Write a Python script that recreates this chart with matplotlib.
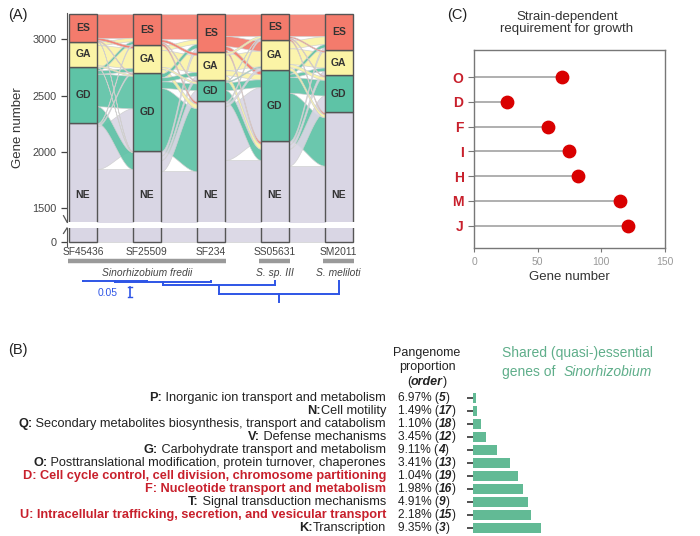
import numpy as np
import matplotlib
matplotlib.use("Agg")
import matplotlib.pyplot as plt
from matplotlib.transforms import offset_copy

plt.rcParams['font.family'] = ['Liberation Sans', 'DejaVu Sans']

# ---------------- data: panel A (alluvial) ----------------
strains = ['SF45436', 'SF25509', 'SF234', 'SS05631', 'SM2011']
strata = ['NE', 'GD', 'GA', 'ES']          # bottom -> top
ne_counts = [2257, 2009, 2451, 2097, 2353]
gd_counts = [495, 691, 186, 629, 328]
ga_counts = [230, 247, 248, 265, 222]
es_counts = [248, 283, 345, 239, 327]
# flows between neighbouring strains, rows = from (NE, GD, GA, ES), cols = to
flows_1_2 = [[1850, 380, 15, 12], [150, 290, 30, 25], [6, 12, 180, 32], [3, 9, 22, 214]]
flows_2_3 = [[1830, 100, 40, 39], [560, 60, 35, 36], [40, 16, 150, 41], [21, 10, 23, 229]]
flows_3_4 = [[1930, 480, 25, 16], [100, 70, 10, 6], [45, 45, 140, 18], [22, 34, 90, 199]]
flows_4_5 = [[1880, 150, 40, 27], [430, 140, 30, 29], [28, 28, 140, 69], [15, 10, 12, 202]]
species = [('Sinorhizobium fredii', 0, 2), ('S. sp. III', 3, 3), ('S. meliloti', 4, 4)]
# cladogram: (left child x, right child x, node depth); leaves at strain positions
tree_nodes = [(0, 1, 0.005), (0.5, 2, 0.011), (1.25, 3, 0.023), (2.125, 4, 0.064)]
root_depth = 0.1

# ---------------- data: panel B ----------------
cog_letters = ['P', 'N', 'Q', 'V', 'G', 'O', 'D', 'F', 'T', 'U', 'K']
cog_names = ['Inorganic ion transport and metabolism', 'Cell motility',
             'Secondary metabolites biosynthesis, transport and catabolism',
             'Defense mechanisms', 'Carbohydrate transport and metabolism',
             'Posttranslational modification, protein turnover, chaperones',
             'Cell cycle control, cell division, chromosome partitioning',
             'Nucleotide transport and metabolism', 'Signal transduction mechanisms',
             'Intracellular trafficking, secretion, and vesicular transport', 'Transcription']
cog_red = ['D', 'F', 'U']
pang_pct = [6.97, 1.49, 1.10, 3.45, 9.11, 3.41, 1.04, 1.98, 4.91, 2.18, 9.35]
pang_order = [5, 17, 18, 12, 4, 13, 19, 16, 9, 15, 3]
shared_genes = [3, 3.5, 8, 13, 24, 37, 45, 50, 55, 58, 68]

# ---------------- data: panel C ----------------
c_cats = ['O', 'D', 'F', 'I', 'H', 'M', 'J']
c_vals = [69, 26, 58, 74.5, 81.5, 115, 121]

colors = {'NE': '#D9D6E4', 'GD': '#5EC3A6', 'GA': '#FBF4A6', 'ES': '#F47B6C'}
RED = '#C8202C'
W, H = 700, 536
fig = plt.figure(figsize=(7, 5.36), dpi=100)
renderer = fig.canvas.get_renderer()


def px_axes(x0, y0, x1, y1):
    return fig.add_axes([x0 / W, 1 - y1 / H, (x1 - x0) / W, (y1 - y0) / H])


def run_text(ax, x, y, runs, ha='left', **common):
    # several pieces of text with their own style, laid out on one line
    widths = []
    for s, kw in runs:
        t = ax.text(0, 0, s, **common, **kw)
        widths.append(t.get_window_extent(renderer).width)
        t.remove()
    total = sum(widths)
    off = {'left': 0, 'right': -total, 'center': -total / 2}[ha]
    for (s, kw), w in zip(runs, widths):
        tr = offset_copy(ax.transData, fig=fig, x=off, y=0, units='dots')
        ax.text(x, y, s, transform=tr, ha='left', va='center', **common, **kw)
        off += w


counts = np.array([ne_counts, gd_counts, ga_counts, es_counts]).T
all_flows = [np.array(f) for f in (flows_1_2, flows_2_3, flows_3_4, flows_4_5)]
bw = 0.44


def draw_alluvial(ax):
    t = np.linspace(0, 1, 60)
    s = t * t * (3 - 2 * t)
    for k, M in enumerate(all_flows):
        starts_l = np.concatenate([[0], np.cumsum(counts[k])[:-1]])
        starts_r = np.concatenate([[0], np.cumsum(counts[k + 1])[:-1]])
        x0, x1 = k + bw / 2, k + 1 - bw / 2
        pieces = []
        for i in range(4):
            for j in range(4):
                yl = starts_l[i] + M[i, :j].sum()
                yr = starts_r[j] + M[:i, j].sum()
                pieces.append((M[i, j], i, yl, yr))
        for n, i, yl, yr in sorted(pieces, key=lambda p: -p[0]):
            lo = yl + (yr - yl) * s
            ax.fill_between(x0 + t * (x1 - x0), lo, lo + n, facecolor=colors[strata[i]],
                            edgecolor='#cfcfcf', lw=0.5, alpha=0.92, zorder=1)
    for i, st in enumerate(strata):
        bottom = counts[:, :i].sum(axis=1)
        ax.bar(range(len(strains)), counts[:, i], bottom=bottom, width=bw,
               color=colors[st], edgecolor='#555555', lw=1.0, zorder=3)


ax_up = px_axes(67, 13, 356, 222)
ax_lo = px_axes(67, 228, 356, 246)
for ax in (ax_up, ax_lo):
    draw_alluvial(ax)
    ax.set_xlim(-0.25, 4.27)
    ax.set_xticks([])
    for sp in ('top', 'right', 'bottom'):
        ax.spines[sp].set_visible(False)
    ax.spines['left'].set_color('#555555')
    ax.tick_params(axis='y', labelsize=7.8, colors='#444444', length=4, width=0.9)
    ax.patch.set_visible(False)
ax_up.set_ylim(1380, 3235)
ax_up.set_yticks([1500, 2000, 2500, 3000])
ax_lo.set_ylim(-36, 124)
ax_lo.set_yticks([0])
# break marks
ax_up.plot([0, -0.012], [0, 0.03], color='#555555', lw=0.9, transform=ax_up.transAxes, clip_on=False)
ax_lo.plot([0, -0.012], [1, 0.7], color='#555555', lw=0.9, transform=ax_lo.transAxes, clip_on=False)

# stratum labels
for k in range(len(strains)):
    bottom = 0
    for i, st in enumerate(strata):
        ymid = 1620 if st == 'NE' else bottom + counts[k, i] / 2
        ax_up.text(k, ymid, st, ha='center', va='center', fontsize=7.5,
                   fontweight='bold', color='#333333', zorder=5)
        bottom += counts[k, i]

# strain and species labels
ax_lab = px_axes(67, 246, 356, 280)
ax_lab.set_xlim(-0.25, 4.27)
ax_lab.set_ylim(280, 246)
ax_lab.axis('off')
for k, name in enumerate(strains):
    ax_lab.text(k, 252, name, ha='center', va='center', fontsize=7.4, color='#444444')
for name, a, b in species:
    ax_lab.plot([a - 0.24, b + 0.24], [261, 261], color='#9a9a9a', lw=3.2, solid_capstyle='butt')
    ax_lab.text((a + b) / 2, 273, name, ha='center', va='center', fontsize=7.4,
                style='italic', color='#444444')

# cladogram
ax_tr = px_axes(67, 280, 356, 307)
ax_tr.set_xlim(-0.25, 4.27)
ax_tr.set_ylim(27 / 218, 0)
ax_tr.axis('off')
blue = '#2E55E6'
node_depth = {k: 0.0 for k in range(len(strains))}
for xa, xb, d in tree_nodes:
    ax_tr.plot([xa, xb], [d, d], color=blue, lw=1.4)
    for xc in (xa, xb):
        ax_tr.plot([xc, xc], [node_depth.get(xc, 0.0), d], color=blue, lw=1.4)
    node_depth[(xa + xb) / 2] = d
xr = (tree_nodes[-1][0] + tree_nodes[-1][1]) / 2
ax_tr.plot([xr, xr], [tree_nodes[-1][2], root_depth], color=blue, lw=1.4)
ax_tr.plot([0.73, 0.73], [0.030, 0.080], color=blue, lw=1.2)
for yb in (0.030, 0.080):
    ax_tr.plot([0.70, 0.76], [yb, yb], color=blue, lw=1.0)
ax_tr.text(0.38, 0.058, '0.05', color=blue, fontsize=7.4, ha='center', va='center')

# ---------------- panel C ----------------
ax_c = px_axes(474, 50, 665, 248)
yc = np.arange(len(c_cats))[::-1]
ax_c.hlines(yc, 0, c_vals, color='#9a9a9a', lw=1.1, zorder=1)
ax_c.scatter(c_vals, yc, s=80, color='#D90000', zorder=3)
ax_c.set_xlim(0, 150)
ax_c.set_ylim(-0.9, 7.1)
ax_c.set_xticks([0, 50, 100, 150])
ax_c.set_yticks(yc)
ax_c.set_yticklabels(c_cats, color=RED, fontweight='bold', fontsize=10)
ax_c.tick_params(axis='x', labelsize=7.5, labelcolor='#999999', color='#777777', length=3)
ax_c.tick_params(axis='y', color='#777777', length=4)
for sp in ax_c.spines.values():
    sp.set_color('#777777')
    sp.set_linewidth(1.0)
ax_c.set_xlabel('Gene number', fontsize=9.5, color='#333333', labelpad=3)

# ---------------- panel B ----------------
ax_b = px_axes(473, 391.5, 650, 534.5)
yb = np.arange(len(cog_letters))[::-1]
ax_b.barh(yb, shared_genes, height=0.72, color='#62BA95')
ax_b.set_xlim(0, 177)
ax_b.set_ylim(-0.5, 10.5)
ax_b.set_xticks([])
ax_b.set_yticks(yb)
ax_b.set_yticklabels([])
ax_b.tick_params(axis='y', length=4, width=1.2, color='#333333')
for sp in ax_b.spines.values():
    sp.set_visible(False)
for y, let, name, pct, order in zip(yb, cog_letters, cog_names, pang_pct, pang_order):
    if let in cog_red:
        ax_b.text(-87, y, f'{let}: {name}', ha='right', va='center', fontsize=9.2,
                  fontweight='bold', color=RED)
    else:
        sep = '' if let in ('N', 'K') else ' '
        run_text(ax_b, -87, y, [(let + ':', dict(fontweight='bold')), (sep + name, {})],
                 ha='right', fontsize=9.2, color='#222222')
    run_text(ax_b, -75, y, [(f'{pct:.2f}% (', {}),
                            (str(order), dict(fontweight='bold', style='italic')), (')', {})],
             ha='left', fontsize=8.6, color='#222222')

# ---------------- overlay texts ----------------
ov = fig.add_axes([0, 0, 1, 1])
ov.set_xlim(0, W)
ov.set_ylim(H, 0)
ov.axis('off')
ov.text(8, 15, '(A)', fontsize=10.5, va='center', color='#222222')
ov.text(18, 128, 'Gene number', rotation=90, fontsize=9.5, ha='center', va='center', color='#333333')
ov.text(447, 15, '(C)', fontsize=10.5, va='center', color='#222222')
ov.text(567, 23, 'Strain-dependent\nrequirement for growth', fontsize=9.5, ha='center',
        va='center', color='#333333', linespacing=1.05)
ov.text(8, 350, '(B)', fontsize=10.5, va='center', color='#222222')
ov.text(427, 353, 'Pangenome', fontsize=9, ha='center', va='center', color='#222222')
ov.text(427, 367, 'proportion', fontsize=9, ha='center', va='center', color='#222222')
run_text(ov, 427, 382, [('(', {}), ('order', dict(fontweight='bold', style='italic')), (')', {})],
         ha='center', fontsize=9, color='#222222')
ov.text(577, 353, 'Shared (quasi-)essential', fontsize=10, ha='center', va='center', color='#5FAE8A')
run_text(ov, 577, 372, [('genes of  ', {}), ('Sinorhizobium', dict(style='italic'))],
         ha='center', fontsize=10, color='#5FAE8A')

fig.savefig('out.png', dpi=100)
